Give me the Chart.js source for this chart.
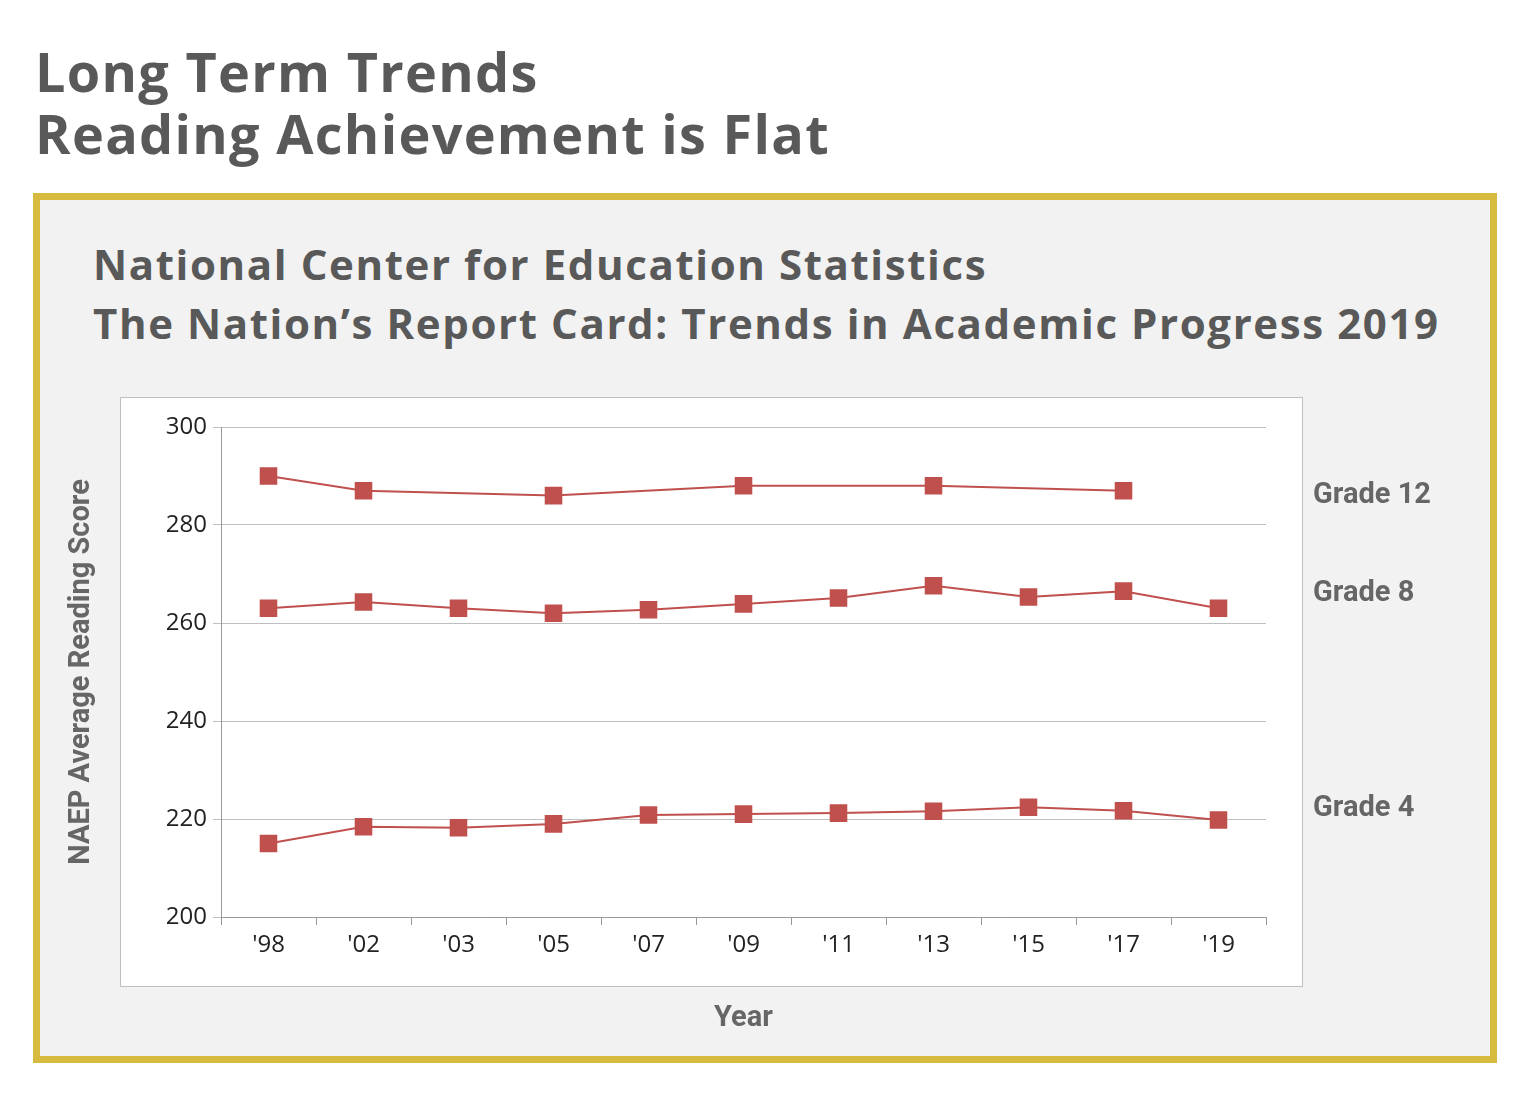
<!DOCTYPE html>
<html><head><meta charset="utf-8">
<script src="https://cdn.jsdelivr.net/npm/chart.js@4"></script>
<style>
body{margin:0;width:1536px;height:1104px;background:#fff;position:relative;overflow:hidden;font-family:"Open Sans",sans-serif}
.t{position:absolute;left:35px;color:#595959;font-weight:700;font-size:54px;line-height:62px;top:40px;letter-spacing:1.3px}
.box{position:absolute;left:33px;top:193px;width:1450px;height:856px;border:7px solid #d6bb3f;background:#f2f2f2}
.st{position:absolute;left:93px;top:234px;color:#595959;font-weight:700;font-size:42px;line-height:59px;letter-spacing:1.6px}
.wb{position:absolute;left:120px;top:397px;width:1181px;height:588px;background:#fff;border:1px solid #bfbfbf}
#wrap{position:absolute;left:60px;top:397px;width:1420px;height:660px}
#wrap canvas{position:absolute;left:0;top:0}
</style></head><body>
<div class="t">Long Term Trends<br>Reading Achievement is Flat</div>
<div class="box"></div>
<div class="st">National Center for Education Statistics<br>The Nation’s Report Card: Trends in Academic Progress 2019</div>
<div class="wb"></div>
<div id="wrap"><canvas id="c" width="1420" height="660" style="width:1420px;height:660px"></canvas></div>
<script>
const years=["'98","'02","'03","'05","'07","'09","'11","'13","'15","'17","'19"];
const grade12=[290,287,null,286,null,288,null,288,null,287,null];
const grade8=[263,264.3,263,262,262.7,263.9,265.1,267.6,265.3,266.5,263];
const grade4=[215,218.4,218.2,219,220.8,221,221.2,221.6,222.4,221.7,219.8];
const seriesNames=["Grade 12","Grade 8","Grade 4"];
const yTicks=[200,220,240,260,280,300];
const red='#c0504d';
function ds(d,label){return{label,data:d,borderColor:red,backgroundColor:red,borderWidth:2,pointStyle:'rect',pointRadius:11,pointHoverRadius:11,spanGaps:true,tension:0};}
const labelsPlugin={id:'gl',afterDatasetsDraw(ch){const c=ch.ctx;const y=ch.scales.y;c.save();c.fillStyle='#666';c.font='bold 29px Roboto';c.textBaseline='middle';
 const ys=[286,266,222];
 seriesNames.forEach((n,i)=>c.fillText(n,1253,y.getPixelForValue(ys[i])));c.restore();}};
new Chart(document.getElementById('c'),{type:'line',
data:{labels:years,datasets:[ds(grade12,seriesNames[0]),ds(grade8,seriesNames[1]),ds(grade4,seriesNames[2])]},
options:{responsive:false,animation:false,devicePixelRatio:1,
 layout:{padding:{top:30,right:214,left:0,bottom:17}},
 plugins:{legend:{display:false},tooltip:{enabled:false}},
 scales:{
  x:{offset:true,afterFit(s){s.height=123;},
   grid:{display:true,drawOnChartArea:false,offset:true,tickLength:8,color:'#999'},border:{color:'#999'},
   ticks:{color:'#222',font:{size:24,family:'Open Sans'},padding:6,maxRotation:0},
   title:{display:true,text:'Year',color:'#666',font:{size:29,weight:'bold',family:'Roboto'}}},
  y:{min:200,max:300,afterFit(s){s.width=161;},
   afterBuildTicks(s){s.ticks=yTicks.map(v=>({value:v}));},
   grid:{color:'#bfbfbf',tickLength:8},border:{color:'#999'},
   ticks:{color:'#222',font:{size:24,family:'Open Sans'},padding:6},
   title:{display:true,text:'NAEP Average Reading Score',color:'#666',font:{size:29,weight:'bold',family:'Roboto'}}}
 }},plugins:[labelsPlugin]});
</script>
</body></html>
